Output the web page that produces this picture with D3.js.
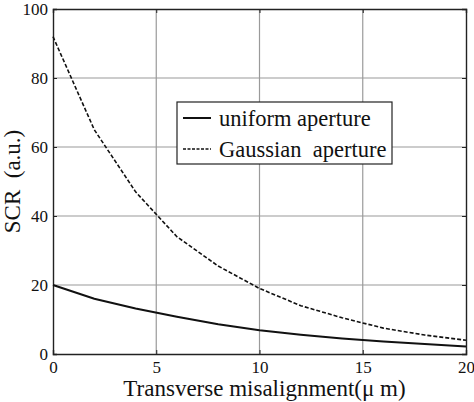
<!DOCTYPE html>
<html>
<head>
<meta charset="utf-8">
<script src="https://cdn.jsdelivr.net/npm/d3@7"></script>
<style>
  body { margin: 0; background: #fff; }
</style>
</head>
<body>
<div id="chart"></div>
<script>
// misalignment (um)
var xValues = [0, 2, 4, 6, 8, 10, 12, 14, 16, 18, 20];
var uniformValues = [20, 16, 13.2, 10.8, 8.6, 6.9, 5.6, 4.5, 3.6, 2.9, 2.2];
var gaussianValues = [92, 65, 47, 34, 25.5, 19, 14, 10.5, 7.5, 5.5, 4];
var seriesNames = ["uniform aperture", "Gaussian  aperture"];
var xTicks = [0, 5, 10, 15, 20];
var yTicks = [0, 20, 40, 60, 80, 100];

var serif = "Liberation Serif";
var width = 474, height = 402;
var margin = {top: 9, right: 8, bottom: 48, left: 53};
var chartWidth = width - margin.left - margin.right;
var chartHeight = height - margin.top - margin.bottom;

var svg = d3.select("#chart").append("svg")
    .attr("width", width)
    .attr("height", height);

var g = svg.append("g")
    .attr("transform", `translate(${margin.left}, ${margin.top})`);

var xScale = d3.scaleLinear().domain([0, 20]).range([0, chartWidth]);
var yScale = d3.scaleLinear().domain([0, 100]).range([chartHeight, 0]);

// grid
g.append("g").selectAll("line")
    .data(xTicks.slice(1, -1))
    .enter().append("line")
    .attr("x1", d => xScale(d)).attr("x2", d => xScale(d))
    .attr("y1", 0).attr("y2", chartHeight)
    .attr("stroke", "#9a9a9a").attr("stroke-width", 1.2);
g.append("g").selectAll("line")
    .data(yTicks.slice(1, -1))
    .enter().append("line")
    .attr("y1", d => yScale(d)).attr("y2", d => yScale(d))
    .attr("x1", 0).attr("x2", chartWidth)
    .attr("stroke", "#9a9a9a").attr("stroke-width", 1.2);

// axes with inward ticks
var xAxis = d3.axisBottom(xScale).tickValues(xTicks).tickSize(-4).tickPadding(7);
var yAxis = d3.axisLeft(yScale).tickValues(yTicks).tickSize(-4).tickPadding(5);

var xg = g.append("g")
    .attr("transform", `translate(0,${chartHeight})`)
    .call(xAxis);
var yg = g.append("g").call(yAxis);
g.append("g").call(d3.axisTop(xScale).tickValues(xTicks).tickSize(-4).tickFormat(""));
g.append("g").attr("transform", `translate(${chartWidth},0)`)
    .call(d3.axisRight(yScale).tickValues(yTicks).tickSize(-4).tickFormat(""));

g.selectAll(".domain").attr("stroke", "#222").attr("stroke-width", 1.4);
g.selectAll(".tick line").attr("stroke", "#222");
xg.attr("font-family", serif).attr("font-size", 17);
yg.attr("font-family", serif).attr("font-size", 17);
xg.selectAll("text").attr("fill", "#111");
yg.selectAll("text").attr("fill", "#111");

// lines
var line = d3.line()
    .x((d, i) => xScale(xValues[i]))
    .y(d => yScale(d));

g.append("path")
    .datum(uniformValues)
    .attr("d", line)
    .attr("fill", "none")
    .attr("stroke", "#111")
    .attr("stroke-width", 2);

g.append("path")
    .datum(gaussianValues)
    .attr("d", line)
    .attr("fill", "none")
    .attr("stroke", "#111")
    .attr("stroke-width", 1.6)
    .attr("stroke-dasharray", "4,2");

// legend
var legend = svg.append("g").attr("transform", "translate(177,102)");
legend.append("rect")
    .attr("width", 215).attr("height", 62)
    .attr("fill", "#fff").attr("stroke", "#222").attr("stroke-width", 1.2);
seriesNames.forEach(function(name, i) {
  var y = 16 + i * 31;
  legend.append("line")
    .attr("x1", 6).attr("x2", 34).attr("y1", y).attr("y2", y)
    .attr("stroke", "#111")
    .attr("stroke-width", i == 0 ? 2 : 1.4)
    .attr("stroke-dasharray", i == 0 ? null : "3,1.5");
  legend.append("text")
    .attr("x", 42).attr("y", y + 8)
    .attr("font-family", serif)
    .attr("font-size", 22.5)
    .attr("fill", "#111")
    .style("white-space", "pre")
    .attr("xml:space", "preserve")
    .text(name);
});

// axis labels
svg.append("text")
    .attr("x", margin.left + chartWidth / 2 + 5)
    .attr("y", 396)
    .attr("text-anchor", "middle")
    .attr("font-family", serif)
    .attr("font-size", 23)
    .attr("fill", "#111")
    .text("Transverse misalignment(\u03bc m)");

svg.append("text")
    .attr("transform", `translate(20, ${margin.top + chartHeight / 2}) rotate(-90)`)
    .attr("text-anchor", "middle")
    .attr("font-family", serif)
    .attr("font-size", 23)
    .attr("fill", "#111")
    .style("white-space", "pre")
    .attr("xml:space", "preserve")
    .text("SCR  (a.u.)");
</script>
</body>
</html>
